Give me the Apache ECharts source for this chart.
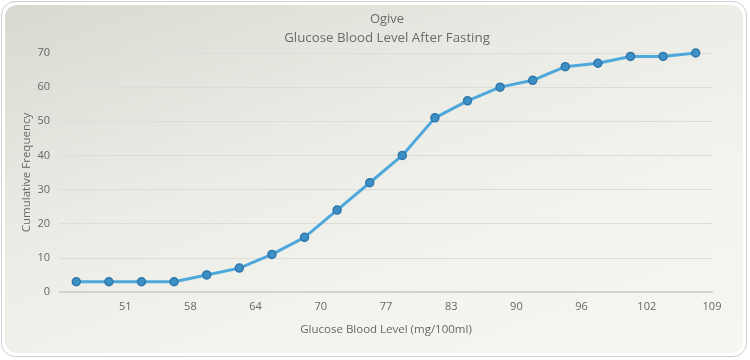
<!DOCTYPE html>
<html>
<head>
<meta charset="utf-8">
<script src="https://cdn.jsdelivr.net/npm/echarts@6/dist/echarts.min.js"></script>
<style>
html,body{margin:0;padding:0;background:#fff;width:750px;height:360px;overflow:hidden;}
#frame{position:absolute;left:1px;top:1px;width:744px;height:354px;border:1px solid #cfcfcf;border-radius:14px;background:#fff;}
#inner{position:absolute;left:3px;top:3px;right:3px;bottom:3px;border-radius:12px;background:linear-gradient(160deg,#d9d9d2 0%,#ecece6 40%,#f4f4ee 70%,#f6f6f1 100%);}
#chart{position:absolute;left:0;top:0;width:750px;height:360px;}
</style>
</head>
<body>
<div id="frame"><div id="inner"></div></div>
<div id="chart"></div>
<script>
var xValues = [46.4, 49.6, 52.8, 56.0, 59.2, 62.4, 65.6, 68.8, 72.0, 75.2, 78.4, 81.6, 84.8, 88.0, 91.2, 94.4, 97.6, 100.8, 104.0, 107.2];
var cumFreq = [3, 3, 3, 3, 5, 7, 11, 16, 24, 32, 40, 51, 56, 60, 62, 66, 67, 69, 69, 70];
var xTickValues = [51.2, 57.6, 64.0, 70.4, 76.8, 83.2, 89.6, 96.0, 102.4, 108.8];
var xTickLabels = ['51', '58', '64', '70', '77', '83', '90', '96', '102', '109'];
var yTicks = [0, 10, 20, 30, 40, 50, 60, 70];

var chart = echarts.init(document.getElementById('chart'), null, {renderer: 'canvas'});
var font = 'Open Sans, DejaVu Sans, sans-serif';
chart.setOption({
  backgroundColor: 'transparent',
  animation: false,
  title: {
    text: 'Ogive',
    subtext: 'Glucose Blood Level After Fasting',
    left: 382, textAlign: 'center', top: 8,
    itemGap: 6,
    textStyle: {fontFamily: font, fontSize: 13, fontWeight: 'normal', color: '#6a6a6a'},
    subtextStyle: {fontFamily: font, fontSize: 13.3, color: '#6a6a6a'}
  },
  grid: {left: 60, right: 38, top: 53, bottom: 68},
  xAxis: {
    type: 'value',
    min: 44.8, max: 108.8, interval: 6.4,
    name: 'Glucose Blood Level (mg/100ml)',
    nameLocation: 'middle', nameGap: 32, nameMoveOverlap: false,
    nameTextStyle: {fontFamily: font, fontSize: 11.5, color: '#666'},
    axisLine: {show: true, lineStyle: {color: '#d2d2d0', width: 2}},
    axisTick: {show: false},
    splitLine: {show: false},
    axisLabel: {
      showMinLabel: false, margin: 9,
      fontFamily: font, fontSize: 11, color: '#666',
      formatter: function (v) {
        for (var i = 0; i < xTickValues.length; i++) {
          if (Math.abs(xTickValues[i] - v) < 0.01) return xTickLabels[i];
        }
        return '';
      }
    }
  },
  yAxis: {
    type: 'value',
    min: yTicks[0], max: yTicks[yTicks.length - 1], interval: 10,
    name: 'Cumulative Frequency',
    nameLocation: 'middle', nameGap: 27, nameMoveOverlap: false,
    nameTextStyle: {fontFamily: font, fontSize: 11.5, color: '#666'},
    axisLine: {show: false},
    axisTick: {show: false},
    axisLabel: {fontFamily: font, fontSize: 11, color: '#666', margin: 10},
    splitLine: {lineStyle: {color: '#dcdcd8', width: 1}}
  },
  series: [{
    type: 'line',
    data: xValues.map(function (x, i) { return [x, cumFreq[i]]; }),
    symbol: 'circle',
    symbolSize: 8,
    lineStyle: {color: '#4ea8dc', width: 3},
    itemStyle: {color: '#3c90c6', borderColor: '#2f76aa', borderWidth: 1.5}
  }]
});
</script>
</body>
</html>
